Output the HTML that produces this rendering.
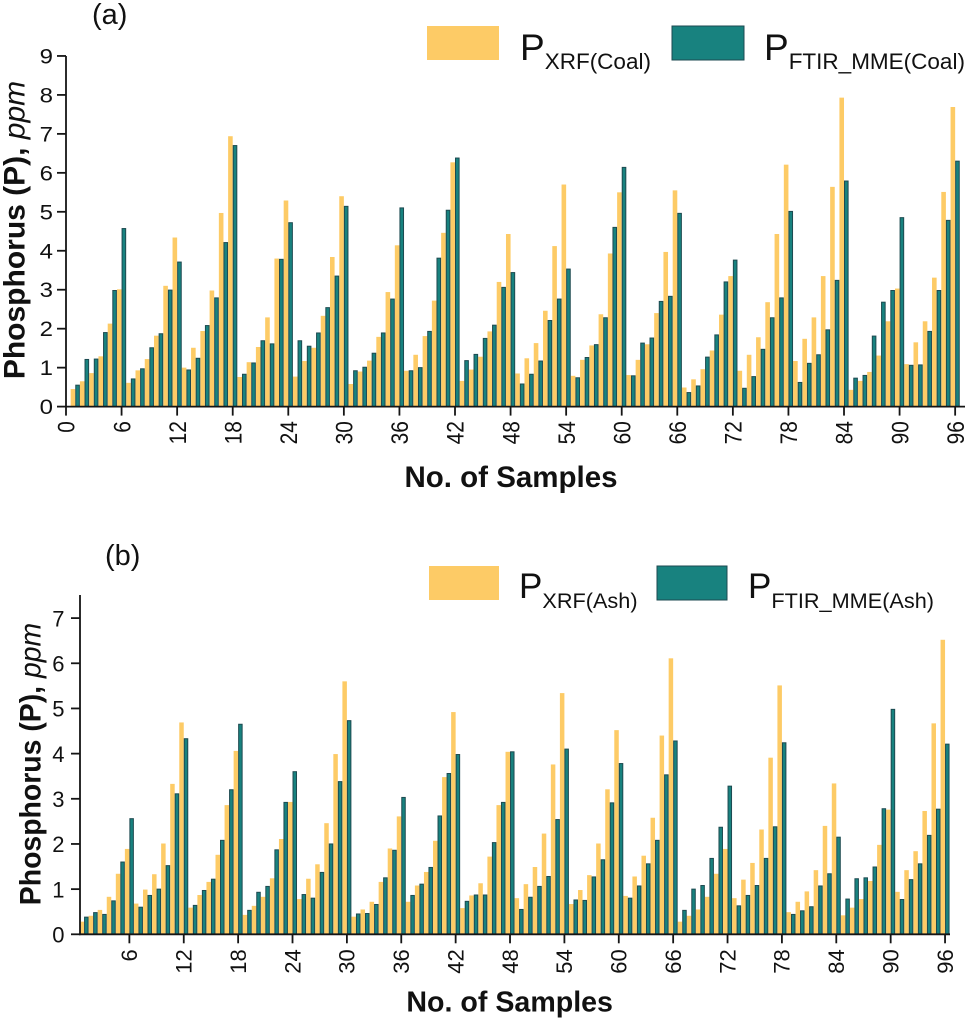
<!DOCTYPE html>
<html>
<head>
<meta charset="utf-8">
<title>Phosphorus charts</title>
<style>
html,body{margin:0;padding:0;background:#fff;}
body{width:968px;height:1021px;overflow:hidden;}
svg{display:block;}
text{font-family:"Liberation Sans",Arial,sans-serif;fill:#111;}
</style>
</head>
<body>
<svg id="fig" xmlns="http://www.w3.org/2000/svg" width="968" height="1021" viewBox="0 0 968 1021"></svg>
<script>
var sampleTicksCoal = [0,6,12,18,24,30,36,42,48,54,60,66,72,78,84,90,96];
var sampleTicksAsh = [6,12,18,24,30,36,42,48,54,60,66,72,78,84,90,96];
var valueTicksCoal = [0,1,2,3,4,5,6,7,8,9];
var valueTicksAsh = [0,1,2,3,4,5,6,7];
var xrfCoal = [0.45,0.65,0.86,1.29,2.13,3.01, 0.61,0.93,1.22,1.82,3.10,4.34, 1.00,1.51,1.94,2.98,4.97,6.94, 0.76,1.14,1.53,2.29,3.80,5.29, 0.77,1.17,1.51,2.33,3.84,5.40, 0.58,0.90,1.18,1.79,2.94,4.14, 0.92,1.33,1.81,2.72,4.46,6.27, 0.66,0.95,1.28,1.93,3.20,4.43, 0.85,1.24,1.63,2.46,4.12,5.70, 0.79,1.20,1.57,2.37,3.93,5.50, 0.81,1.20,1.60,2.40,3.97,5.55, 0.49,0.70,0.96,1.44,2.36,3.35, 0.92,1.33,1.78,2.68,4.43,6.21, 1.17,1.74,2.29,3.35,5.64,7.93, 0.43,0.66,0.89,1.31,2.19,3.03, 1.09,1.65,2.19,3.31,5.51,7.69];
var ftirCoal = [0.55,1.21,1.22,1.90,2.98,4.57, 0.71,0.97,1.51,1.87,2.99,3.71, 0.94,1.24,2.08,2.79,4.21,6.70, 0.83,1.12,1.69,1.61,3.78,4.72, 1.69,1.55,1.89,2.54,3.35,5.14, 0.92,1.01,1.37,1.89,2.76,5.10, 0.92,1.00,1.93,3.81,5.04,6.38, 1.18,1.34,1.75,2.09,3.06,3.44, 0.58,0.83,1.17,2.21,2.76,3.53, 0.74,1.26,1.59,2.28,4.60,6.14, 0.79,1.63,1.76,2.70,2.83,4.96, 0.36,0.53,1.27,1.84,3.20,3.76, 0.47,0.77,1.47,2.28,2.79,5.01, 0.62,1.11,1.33,1.97,3.24,5.79, 0.73,0.80,1.81,2.68,2.98,4.85, 1.06,1.07,1.93,2.98,4.78,6.30];
var xrfAsh = [0.28,0.41,0.54,0.83,1.34,1.89, 0.68,0.99,1.33,2.01,3.33,4.69, 0.59,0.87,1.16,1.76,2.86,4.06, 0.43,0.63,0.83,1.24,2.11,2.93, 0.78,1.23,1.55,2.46,3.99,5.60, 0.39,0.55,0.72,1.16,1.90,2.61, 0.72,1.08,1.38,2.07,3.48,4.92, 0.58,0.86,1.13,1.72,2.86,4.04, 0.80,1.11,1.49,2.23,3.76,5.34, 0.67,0.98,1.31,2.01,3.21,4.52, 0.85,1.28,1.74,2.58,4.40,6.11, 0.28,0.41,0.55,0.83,1.34,1.89, 0.80,1.21,1.58,2.32,3.91,5.51, 0.49,0.72,0.95,1.42,2.40,3.34, 0.42,0.59,0.78,1.18,1.98,2.76, 0.94,1.42,1.84,2.73,4.67,6.52];
var ftirAsh = [0.38,0.48,0.44,0.74,1.60,2.56, 0.60,0.86,1.00,1.52,3.11,4.33, 0.64,0.97,1.22,2.08,3.20,4.65, 0.53,0.93,1.06,1.87,2.92,3.60, 0.88,0.80,1.37,2.00,3.38,4.73, 0.45,0.46,0.66,1.25,1.86,3.03, 0.86,1.11,1.48,2.62,3.56,3.98, 0.73,0.87,0.87,2.03,2.92,4.04, 0.55,0.82,1.06,1.28,2.54,4.10, 0.76,0.75,1.27,1.65,2.91,3.78, 0.80,1.07,1.56,2.08,3.53,4.28, 0.53,1.00,1.08,1.68,2.37,3.28, 0.63,0.86,1.08,1.68,2.38,4.24, 0.44,0.52,0.61,1.07,1.34,2.15, 0.78,1.23,1.25,1.49,2.78,4.98, 0.77,1.21,1.56,2.19,2.77,4.21];

var NS = 'http://www.w3.org/2000/svg';
var svg = document.getElementById('fig');
var YELLOW = '#fdcb66', TEAL = '#18827f', EDGE = '#1d4a50', INK = '#151515';

function make(tag, attrs, parent) {
  var el = document.createElementNS(NS, tag);
  for (var k in attrs) { el.setAttribute(k, attrs[k]); }
  (parent || svg).appendChild(el);
  return el;
}
function addSpan(textEl, str, attrs) {
  var s = document.createElementNS(NS, 'tspan');
  for (var k in attrs) { s.setAttribute(k, attrs[k]); }
  s.textContent = str;
  textEl.appendChild(s);
  return s;
}

function drawPanel(cfg) {
  var g = make('g', {});
  
  
  function xScale(v) { return cfg.x0 + v * cfg.xUnit; }
  function yScale(v) { return cfg.y0 - v * cfg.yUnit; }

  var bw = cfg.barW;
  cfg.xrf.forEach(function (v, i) {
    var x = xScale(i + 1);
    var r = make('rect', {x: x - bw, y: yScale(v), width: bw, height: cfg.y0 - yScale(v), fill: YELLOW}, g);
    
    
  });
  cfg.ftir.forEach(function (v, i) {
    var x = xScale(i + 1);
    var r = make('rect', {x: x + 0.5, y: yScale(v), width: bw - 1, height: cfg.y0 - yScale(v), fill: TEAL, stroke: EDGE, 'stroke-width': 1}, g);
    
    
  });

  var yAxis = make('line', {x1: cfg.spineX, x2: cfg.spineX, y1: cfg.spineTop, y2: cfg.y0 + 0.8, stroke: INK, 'stroke-width': 1.8}, g);
  
  
  var xAxis = make('line', {x1: cfg.spineX - 0.9, x2: cfg.xEnd, y1: cfg.y0, y2: cfg.y0, stroke: INK, 'stroke-width': 1.8}, g);
  
  

  cfg.yTicks.forEach(function (v) {
    var y = yScale(v);
    var t = make('line', {x1: cfg.spineX - 9, x2: cfg.spineX, y1: y, y2: y, stroke: INK, 'stroke-width': 1.8}, g);
    
    
    var l = make('text', {x: 0, y: 0, 'text-anchor': 'end', 'font-size': cfg.tickFont, transform: 'translate(' + cfg.yLabelX + ' ' + (y + cfg.yLabelDy) + ') scale(1 ' + cfg.textSquash + ')'}, g);
    l.textContent = String(v);
    
    
  });
  cfg.xTicks.forEach(function (v) {
    var x = xScale(v);
    var t = make('line', {x1: x, x2: x, y1: cfg.y0, y2: cfg.y0 + 9, stroke: INK, 'stroke-width': 1.8}, g);
    
    
    var ly = cfg.y0 + cfg.xLabelGap;
    var l = make('text', {x: 0, y: 0, 'text-anchor': 'end', 'font-size': cfg.tickFont, transform: 'translate(' + (x + cfg.xLabelDx) + ' ' + ly + ') rotate(-90) scale(' + cfg.textSquash + ' 1)'}, g);
    l.textContent = String(v);
    
    
  });

  var xt = make('text', {x: cfg.xTitleX, y: cfg.xTitleY, 'text-anchor': 'middle', 'font-size': cfg.xTitleFont, 'font-weight': 'bold'}, g);
  xt.textContent = 'No. of Samples';
  
  

  var yt = make('text', {x: 0, y: 0, 'text-anchor': 'middle', 'font-size': cfg.yTitleFont, transform: 'translate(' + cfg.yTitleX + ' ' + cfg.yTitleY + ') rotate(-90) scale(1 ' + cfg.yTitleStretch + ')'}, g);
  addSpan(yt, 'Phosphorus (P), ', {'font-weight': 'bold'});
  addSpan(yt, 'ppm', {'font-style': 'italic'});
  
  

  var pl = make('text', {x: cfg.tagX, y: cfg.tagY, 'font-size': 29}, g);
  pl.textContent = cfg.tag;
  
  

  cfg.legend.forEach(function (e) {
    var leg = make('g', {}, g);
    
    
    var sw = make('rect', {x: e.x, y: e.y, width: e.w, height: e.h, fill: e.color}, leg);
    if (e.edge) { sw.setAttribute('stroke', EDGE); sw.setAttribute('stroke-width', '1'); }
    
    
    var tx = make('text', {x: e.tx, y: e.ty, 'font-size': e.big}, leg);
    addSpan(tx, 'P', {});
    addSpan(tx, e.sub, {'font-size': e.small, dy: e.subDy});
    
    
  });
}

drawPanel({
  id: 'coal', xrf: xrfCoal, ftir: ftirCoal, xTicks: sampleTicksCoal, yTicks: valueTicksCoal,
  x0: 66, xUnit: 9.262, y0: 406.6, yUnit: 38.96, barW: 4.6, spineX: 66, spineTop: 56, xEnd: 965,
  yLabelX: 53, yLabelDy: 7.5, tickFont: 24, textSquash: 0.87, xLabelGap: 14.5, xLabelDx: 8.7,
  xTitleX: 511, xTitleY: 487, xTitleFont: 29.5,
  yTitleX: 24.5, yTitleY: 230, yTitleFont: 30, yTitleStretch: 1, tag: '(a)', tagX: 92, tagY: 24,
  legend: [
    {x: 427, y: 26, w: 72, h: 34, color: YELLOW, edge: false, tx: 520, ty: 60, big: 37, small: 22.5, subDy: 9, sub: 'XRF(Coal)'},
    {x: 672, y: 26, w: 72, h: 34, color: TEAL, edge: true, tx: 764, ty: 60, big: 37, small: 22.5, subDy: 9, sub: 'FTIR_MME(Coal)'}
  ]
});
drawPanel({
  id: 'ash', xrf: xrfAsh, ftir: ftirAsh, xTicks: sampleTicksAsh, yTicks: valueTicksAsh,
  x0: 75, xUnit: 9.063, y0: 934.3, yUnit: 45.17, barW: 4.5, spineX: 80, spineTop: 595, xEnd: 950,
  yLabelX: 64.5, yLabelDy: 8.2, tickFont: 22, textSquash: 1, xLabelGap: 15, xLabelDx: 7.8,
  xTitleX: 509.7, xTitleY: 1011.7, xTitleFont: 28.6,
  yTitleX: 40.5, yTitleY: 764, yTitleFont: 28.4, yTitleStretch: 1.05, tag: '(b)', tagX: 105, tagY: 565,
  legend: [
    {x: 429, y: 566, w: 70, h: 34, color: YELLOW, edge: false, tx: 519, ty: 598, big: 35, small: 21.7, subDy: 10, sub: 'XRF(Ash)'},
    {x: 657, y: 566, w: 70, h: 34, color: TEAL, edge: true, tx: 748, ty: 598, big: 35, small: 21.7, subDy: 10, sub: 'FTIR_MME(Ash)'}
  ]
});
</script>
</body>
</html>
